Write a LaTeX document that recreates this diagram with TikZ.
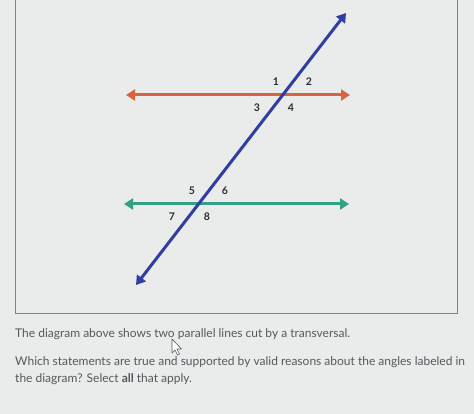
\documentclass[tikz,border=0pt]{standalone}
\usepackage{fontspec}
\setmainfont{Lato}
\usetikzlibrary{arrows.meta}
\definecolor{bg}{HTML}{E9ECEB}
\definecolor{frame}{HTML}{7C8294}
\definecolor{lorange}{HTML}{D8643F}
\definecolor{lteal}{HTML}{33A088}
\definecolor{lblue}{HTML}{2F3EA0}
\definecolor{txt}{HTML}{55595E}
\definecolor{lbl}{HTML}{2A2C2F}
\tikzset{
  parline/.style={line width=3pt,{Triangle[length=9pt,width=11pt]}-{Triangle[length=9pt,width=11pt]}},
  transline/.style={line width=3pt,color=lblue,{Triangle[length=9pt,width=11pt]}-{Triangle[length=9pt,width=11pt]}},
  anglbl/.style={font=\fontsize{10.5}{12}\selectfont\bfseries,text=lbl,inner sep=0pt},
  para/.style={font=\fontsize{12}{17}\selectfont,text=txt,anchor=base west,inner sep=0pt}
}
\begin{document}
\begin{tikzpicture}[x=1pt,y=-1pt]
\fill[bg] (0,0) rectangle (474,414);
\useasboundingbox (0,0) rectangle (474,414);
\draw[frame,line width=1pt] (15,-5) -- (15,313) -- (457,313) -- (457,-5);
% lines
\coordinate (oL) at (126,95);
\coordinate (oR) at (350,95);
\coordinate (tL) at (124,204);
\coordinate (tR) at (349,204);
\coordinate (bT) at (346,13);
\coordinate (bB) at (136,285);
\draw[parline,lorange] (oL) -- (oR);
\draw[parline,lteal] (tL) -- (tR);
\draw[transline] (bB) -- (bT);
% angle labels
\node[anglbl] (a1) at (276,82) {1};
\node[anglbl] (a2) at (309,82) {2};
\node[anglbl] (a3) at (257,108) {3};
\node[anglbl] (a4) at (291,108) {4};
\node[anglbl] (a5) at (192,191) {5};
\node[anglbl] (a6) at (225,191) {6};
\node[anglbl] (a7) at (172,217) {7};
\node[anglbl] (a8) at (207,217) {8};
% text
\node[para] (p1) at (15,337) {The diagram above shows two parallel lines cut by a transversal.};
\node[para] (p2) at (15,365) {Which statements are true and supported by valid reasons about the angles labeled in};
\node[para] (p3) at (15,382) {the diagram? Select \textbf{all} that apply.};
% cursor
\draw[txt,fill=white,line width=0.6pt,line join=round] (172,339) -- (172,353) -- (175,350) -- (177.5,355) -- (179.5,354) -- (177,349) -- (181.5,349) -- cycle;
\end{tikzpicture}
\end{document}
